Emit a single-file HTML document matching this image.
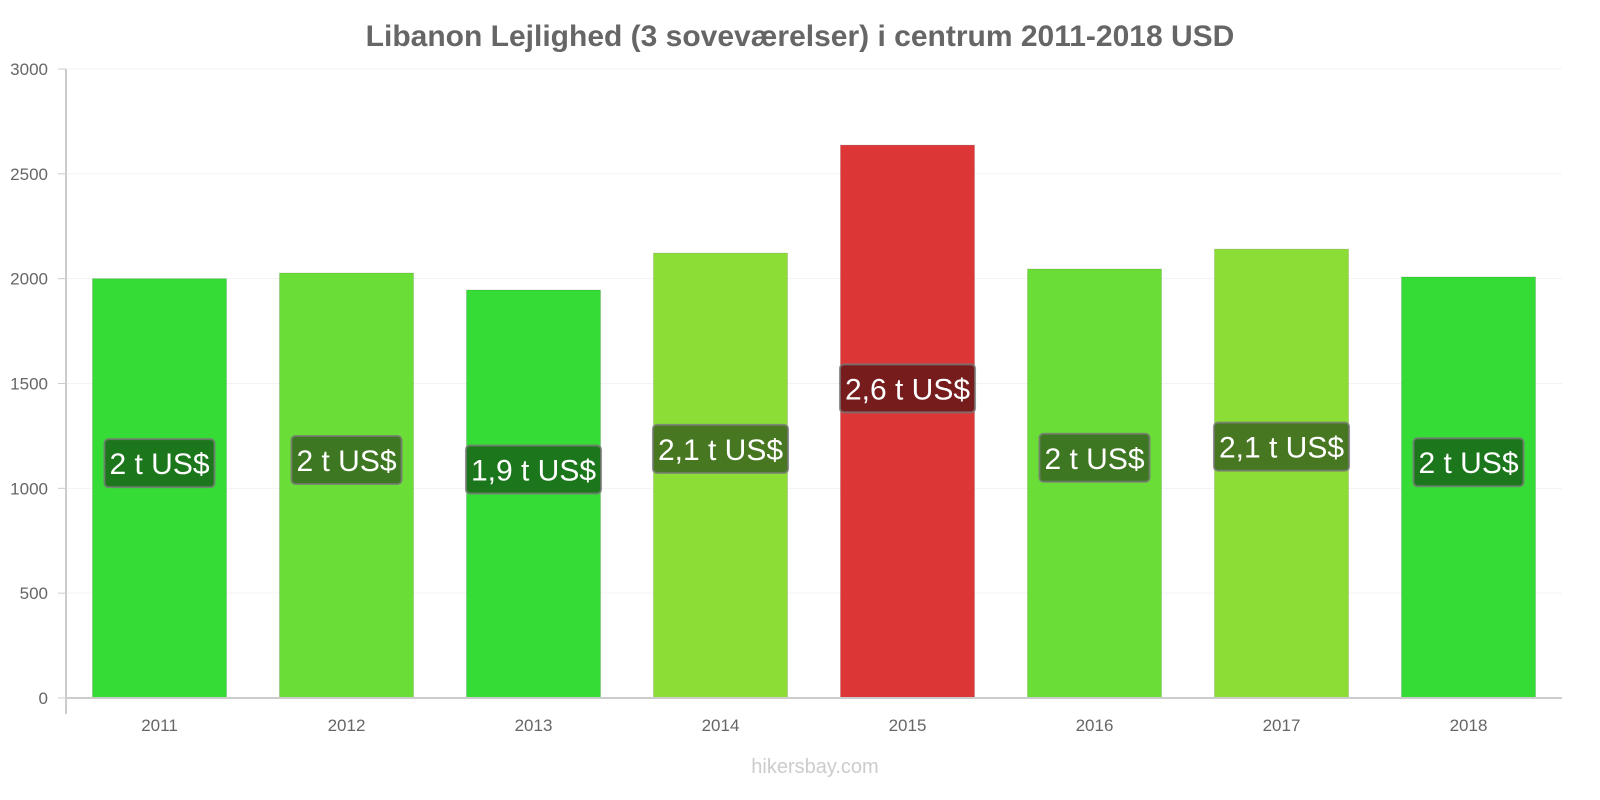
<!DOCTYPE html>
<html><head><meta charset="utf-8"><style>
body{margin:0;background:#fff;font-family:"Liberation Sans",sans-serif;}
svg{display:block}
</style></head><body>
<svg id="chart" width="1600" height="800">
<text x="800" y="46" text-anchor="middle" font-size="30" font-weight="bold" fill="#666">Libanon Lejlighed (3 soveværelser) i centrum 2011-2018 USD</text>
<g id="grid"></g><g id="bars"></g><g id="labels"></g><g id="axes"></g>
<text x="815" y="773" text-anchor="middle" font-size="20" fill="#ccc">hikersbay.com</text>
</svg>
<script>
const categories=["2011","2012","2013","2014","2015","2016","2017","2018"];
const values=[2000,2027,1946,2122,2637,2046,2141,2008];
const valueLabels=["2 t US$","2 t US$","1,9 t US$","2,1 t US$","2,6 t US$","2 t US$","2,1 t US$","2 t US$"];
const barColors=["#36dc36","#6ade36","#36dc36","#8cdd36","#dc3636","#6ade36","#8cdd36","#36dc36"];
const labelColors=["#1a6b1a","#3a6b1f","#1a6b1a","#3f6b1f","#6b1a1a","#3a6b1f","#3f6b1f","#1a6b1a"];
const yTicks=[0,500,1000,1500,2000,2500,3000];
const NS="http://www.w3.org/2000/svg";
const x0=66,x1=1562,y0=698,y1=69,yMax=3000;
const y=v=>y0-(v/yMax)*(y0-y1);
const band=(x1-x0)/categories.length;
const bx=i=>x0+band*i+band/2;
function mk(t,a,p){const e=document.createElementNS(NS,t);for(const k in a)e.setAttribute(k,a[k]);p.appendChild(e);return e;}
const grid=document.getElementById('grid'),bars=document.getElementById('bars'),labels=document.getElementById('labels'),axes=document.getElementById('axes');
yTicks.forEach(t=>{
 const l=mk('line',{x1:x0,x2:x1,y1:y(t),y2:y(t),stroke:'#f3f3f3'},grid);
 
 
 const tk=mk('line',{x1:x0-8,x2:x0,y1:y(t),y2:y(t),stroke:'#ccc'},axes);
 
 
 const tx=mk('text',{x:48,y:y(t)+6,'text-anchor':'end','font-size':17,fill:'#666'},axes);
 tx.textContent=t;
 
 
});
const ya=mk('line',{x1:x0,x2:x0,y1:y1,y2:y0+16,stroke:'#ccc','stroke-width':2},axes);


const xa=mk('line',{x1:x0,x2:x1,y1:y0,y2:y0,stroke:'#ccc','stroke-width':2},axes);


const bw=134;
categories.forEach((c,i)=>{
 const cx=bx(i),top=y(values[i]);
 const r=mk('rect',{x:cx-bw/2,y:top,width:bw,height:y0-top,fill:barColors[i],stroke:'rgba(0,0,0,0.12)'},bars);
 
 
 const tx=mk('text',{x:cx,y:y0+33,'text-anchor':'middle','font-size':17,fill:'#666'},axes);
 tx.textContent=c;
 
 
 const ly=top+(y0-top)*0.44;
 const g=mk('g',{},labels);
 
 
 const t=mk('text',{x:cx,y:ly+11,'text-anchor':'middle','font-size':30,fill:'#fff'},g);
 t.textContent=valueLabels[i];
 const w=t.getComputedTextLength()+10;
 const bg=mk('rect',{x:cx-w/2,y:ly-24,width:w,height:48,rx:4,fill:labelColors[i],'fill-opacity':0.9,stroke:'rgba(120,120,120,0.8)','stroke-width':2},g);
 g.insertBefore(bg,t);
});
</script>
</body></html>
